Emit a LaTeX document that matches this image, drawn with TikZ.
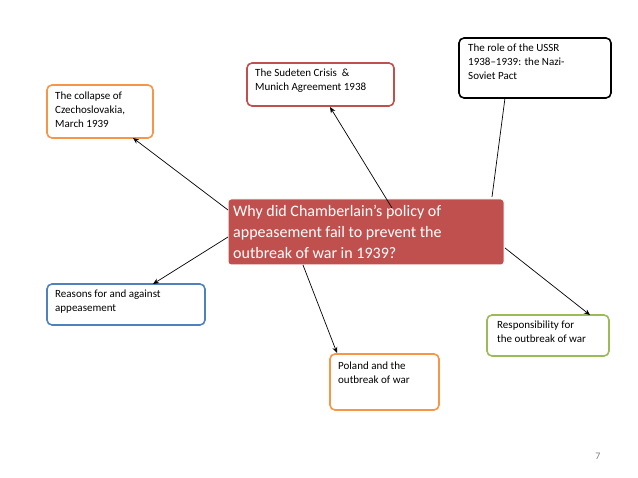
\documentclass[tikz,border=0pt]{standalone}
\usepackage{fontspec}
\setmainfont{Carlito}
\usetikzlibrary{arrows.meta}
\begin{document}
\begin{tikzpicture}[x=1pt,y=-1pt,
  box/.style={draw=#1,line width=1.6pt,rounded corners=5pt,align=left,anchor=north west,inner sep=0pt,font=\fontsize{11}{14}\selectfont},
  lbl/.style={anchor=north west,align=left,font=\fontsize{11}{14}\selectfont,inner sep=0pt},
  arr/.style={-{Stealth[length=6pt,width=5pt]},line width=0.7pt}]
\useasboundingbox (0,0) rectangle (638,478);
\definecolor{cred}{HTML}{C0504D}
\definecolor{corange}{HTML}{F79646}
\definecolor{cblue}{HTML}{4F81BD}
\definecolor{cgreen}{HTML}{9BBB59}
\definecolor{cdred}{HTML}{C0504D}
% boxes
\draw[corange,line width=1.6pt,rounded corners=5pt] (47,85) rectangle (153,138);
\node[lbl] (tcol) at (55,92) {The collapse of\\Czechoslovakia,\\March 1939};
\coordinate (col) at (133,138);
\draw[cdred,line width=1.6pt,rounded corners=5pt] (247,63) rectangle (394,106);
\node[lbl] (tsud) at (255,69) {The Sudeten Crisis \ \&\\Munich Agreement 1938};
\coordinate (sud) at (330,107);
\draw[black,line width=1.6pt,rounded corners=5pt] (459,38) rectangle (611,98);
\node[lbl] (tussr) at (468,44) {The role of the USSR\\1938--1939: the Nazi-\\Soviet Pact};
\coordinate (ussr) at (505,98);
\draw[cblue,line width=1.6pt,rounded corners=5pt] (47,284) rectangle (205,325);
\node[lbl] (trea) at (55,290) {Reasons for and against\\appeasement};
\coordinate (rea) at (153,284);
\draw[cgreen,line width=1.6pt,rounded corners=5pt] (487,315) rectangle (609,356);
\node[lbl] (tres) at (497,321) {Responsibility for\\the outbreak of war};
\coordinate (res) at (590,315);
\draw[corange,line width=1.6pt,rounded corners=5pt] (330,354) rectangle (439,410);
\node[lbl] (tpol) at (338,362) {Poland and the\\outbreak of war};
\coordinate (pol) at (337,353);
% central
\fill[cred,rounded corners=3pt] (228,199) rectangle (504,265);
\draw[white,line width=1pt,rounded corners=3pt] (228,199) rectangle (504,265);
\node[anchor=north west,align=left,inner sep=0pt,text=white,font=\fontsize{16}{21}\selectfont] (c) at (233,205) {Why did Chamberlain’s policy of\\appeasement fail to prevent the\\outbreak of war in 1939?};
\coordinate (c1) at (228,210);
\coordinate (c2) at (392,208);
\coordinate (c3) at (492,197);
\coordinate (c4) at (228,237);
\coordinate (c5) at (505,248);
\coordinate (c6) at (303,265);
\draw[arr] (c1) -- (col);
\draw[arr] (c2) -- (sud);
\draw[line width=0.7pt] (c3) -- (ussr);
\draw[arr] (c4) -- (rea);
\draw[arr] (c5) -- (res);
\draw[arr] (c6) -- (pol);
\node[text=gray,font=\fontsize{10}{12}\selectfont] (pg) at (598,456) {7};
\end{tikzpicture}
\end{document}
